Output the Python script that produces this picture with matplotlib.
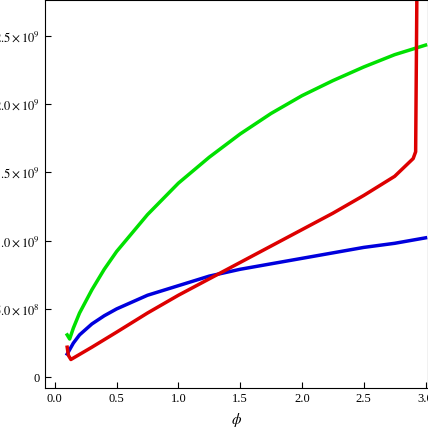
import matplotlib.pyplot as plt

plt.rcParams['font.family'] = ['Liberation Serif', 'DejaVu Serif']
plt.rcParams['mathtext.fontset'] = 'stix'

# valores (y em unidades de 1e9)
phi_verde = [0.10, 0.12, 0.15, 0.2, 0.3, 0.4, 0.5, 0.75, 1.0, 1.25, 1.5, 1.75, 2.0, 2.25, 2.5, 2.75, 3.0]
y_verde = [0.31, 0.28, 0.36, 0.47, 0.64, 0.79, 0.92, 1.19, 1.42, 1.61, 1.78, 1.93, 2.06, 2.17, 2.27, 2.36, 2.43]

phi_azul = [0.10, 0.15, 0.2, 0.3, 0.4, 0.5, 0.75, 1.0, 1.25, 1.5, 1.75, 2.0, 2.25, 2.5, 2.75, 3.0]
y_azul = [0.17, 0.25, 0.31, 0.39, 0.45, 0.50, 0.60, 0.67, 0.74, 0.79, 0.83, 0.87, 0.91, 0.95, 0.98, 1.02]

phi_verm = [0.10, 0.11, 0.13, 0.3, 0.5, 0.75, 1.0, 1.25, 1.5, 1.75, 2.0, 2.25, 2.5, 2.75, 2.90, 2.92, 2.93]
y_verm = [0.22, 0.16, 0.13, 0.22, 0.33, 0.47, 0.60, 0.72, 0.84, 0.96, 1.08, 1.20, 1.33, 1.47, 1.60, 1.65, 2.80]

fig = plt.figure(figsize=(4.28, 4.28), dpi=100)
ax = fig.add_axes([0.105, 0.093, 0.895, 0.907])

ax.plot(phi_verde, [v * 1e9 for v in y_verde], color='#00e000', linewidth=2.5)
ax.plot(phi_azul, [v * 1e9 for v in y_azul], color='#0000dd', linewidth=2.5)
ax.plot(phi_verm, [v * 1e9 for v in y_verm], color='#dd0000', linewidth=2.5)

ax.set_xlim(-0.08, 3.02)
ax.set_ylim(-0.08e9, 2.76e9)
ax.set_xticks([0.0, 0.5, 1.0, 1.5, 2.0, 2.5, 3.0])
ax.set_xticklabels(['0.0', '0.5', '1.0', '1.5', '2.0', '2.5', '3.0'])
ax.set_yticks([0, 0.5e9, 1.0e9, 1.5e9, 2.0e9, 2.5e9])
ax.set_yticklabels(['0', r'$5.0\times10^{8}$', r'$1.0\times10^{9}$', r'$1.5\times10^{9}$',
                    r'$2.0\times10^{9}$', r'$2.5\times10^{9}$'])
ax.tick_params(labelsize=9, direction='in', length=4)
ax.set_xlabel(r'$\phi$', fontsize=11)

plt.savefig('out.png', dpi=100)
